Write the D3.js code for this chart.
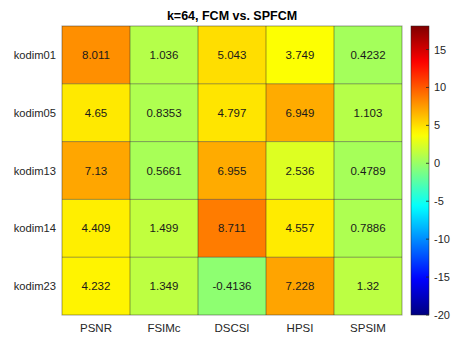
<!DOCTYPE html>
<html><head><meta charset="utf-8">
<script src="https://cdn.jsdelivr.net/npm/d3@7"></script>
<style>body{margin:0;background:#fff;} svg{display:block;font-family:"Liberation Sans",Arial,sans-serif;}</style>
</head><body>
<svg id="c" width="474" height="355"></svg>
<script>
const rows = ["kodim01","kodim05","kodim13","kodim14","kodim23"];
const cols = ["PSNR","FSIMc","DSCSI","HPSI","SPSIM"];
const vPSNR  = [8.011, 4.65, 7.13, 4.409, 4.232];
const vFSIMc = [1.036, 0.8353, 0.5661, 1.499, 1.349];
const vDSCSI = [5.043, 4.797, 6.955, 8.711, -0.4136];
const vHPSI  = [3.749, 6.949, 2.536, 4.557, 7.228];
const vSPSIM = [0.4232, 1.103, 0.4789, 0.7886, 1.32];
const labPSNR  = ["8.011","4.65","7.13","4.409","4.232"];
const labFSIMc = ["1.036","0.8353","0.5661","1.499","1.349"];
const labDSCSI = ["5.043","4.797","6.955","8.711","-0.4136"];
const labHPSI  = ["3.749","6.949","2.536","4.557","7.228"];
const labSPSIM = ["0.4232","1.103","0.4789","0.7886","1.32"];
const cbTicks = [15,10,5,0,-5,-10,-15,-20];
const cmin = -20, cmax = 18.1;

const series = [vPSNR,vFSIMc,vDSCSI,vHPSI,vSPSIM];
const labels = [labPSNR,labFSIMc,labDSCSI,labHPSI,labSPSIM];
const cells = [];
cols.forEach((c,j)=>rows.forEach((r,i)=>cells.push({r,c,v:series[j][i],t:labels[j][i]})));

function jet(t){
  const cl = x=>Math.max(0,Math.min(1,x));
  const r=cl(1.5-Math.abs(4*t-3)), g=cl(1.5-Math.abs(4*t-2)), b=cl(1.5-Math.abs(4*t-1));
  return d3.rgb(r*255,g*255,b*255).toString();
}
const color = v => jet((v-cmin)/(cmax-cmin));

const svg = d3.select("#c");
const L=62, R=402, T=26, B=315;
const x = d3.scaleBand().domain(cols).range([L,R]);
const y = d3.scaleBand().domain(rows).range([T,B]);

svg.append("g").selectAll("rect").data(cells).join("rect")
  .attr("x",d=>x(d.c)).attr("y",d=>y(d.r))
  .attr("width",x.bandwidth()).attr("height",y.bandwidth())
  .attr("fill",d=>color(d.v));

// grid lines
const g = svg.append("g").attr("stroke","rgba(38,38,38,0.45)").attr("stroke-width",1).attr("fill","none");
cols.forEach((c,j)=>{ if(j>0) g.append("line").attr("x1",x(c)).attr("x2",x(c)).attr("y1",T).attr("y2",B); });
rows.forEach((r,i)=>{ if(i>0) g.append("line").attr("y1",y(r)).attr("y2",y(r)).attr("x1",L).attr("x2",R); });
g.append("rect").attr("x",L).attr("y",T).attr("width",R-L).attr("height",B-T);

svg.append("g").selectAll("text").data(cells).join("text")
  .attr("x",d=>x(d.c)+x.bandwidth()/2).attr("y",d=>y(d.r)+y.bandwidth()/2)
  .attr("text-anchor","middle").attr("dominant-baseline","central")
  .attr("font-size",11.5).attr("fill","#1a1a1a").text(d=>d.t);

// axes labels
svg.append("g").selectAll("text").data(rows).join("text")
  .attr("x",L-6).attr("y",d=>y(d)+y.bandwidth()/2)
  .attr("text-anchor","end").attr("dominant-baseline","central")
  .attr("font-size",11.2).attr("fill","#262626").text(d=>d);
svg.append("g").selectAll("text").data(cols).join("text")
  .attr("x",d=>x(d)+x.bandwidth()/2).attr("y",B+13)
  .attr("text-anchor","middle").attr("dominant-baseline","central")
  .attr("font-size",11.5).attr("fill","#262626").text(d=>d);

svg.append("text").attr("x",(L+R)/2).attr("y",16).attr("text-anchor","middle")
  .attr("dominant-baseline","central").attr("font-size",12.5).attr("font-weight","bold")
  .attr("fill","#000").text("k=64, FCM vs. SPFCM");

// colorbar
const cbX=411, cbW=18;
const cy = d3.scaleLinear().domain([cmin,cmax]).range([B,T]);
const defs = svg.append("defs");
const grad = defs.append("linearGradient").attr("id","jetg").attr("x1",0).attr("y1",1).attr("x2",0).attr("y2",0);
d3.range(0,1.0001,0.02).forEach(t=>grad.append("stop").attr("offset",t).attr("stop-color",jet(t)));
svg.append("rect").attr("x",cbX).attr("y",T).attr("width",cbW).attr("height",B-T).attr("fill","url(#jetg)");
const ax = d3.axisRight(cy).tickValues(cbTicks).tickSize(0).tickPadding(5).tickFormat(d=>String(d));
const ag = svg.append("g").attr("transform",`translate(${cbX+cbW},0)`).call(ax);
ag.select(".domain").remove();
ag.selectAll("text").attr("font-size",11).attr("fill","#262626").attr("font-family","Liberation Sans, Arial, sans-serif");
svg.append("g").selectAll("line").data(cbTicks).join("line")
  .attr("x1",cbX+cbW-3).attr("x2",cbX+cbW).attr("y1",d=>cy(d)).attr("y2",d=>cy(d))
  .attr("stroke","#262626").attr("stroke-width",0.8);
svg.append("rect").attr("x",cbX).attr("y",T).attr("width",cbW).attr("height",B-T)
  .attr("fill","none").attr("stroke","#262626").attr("stroke-width",0.5);
</script>
</body></html>
